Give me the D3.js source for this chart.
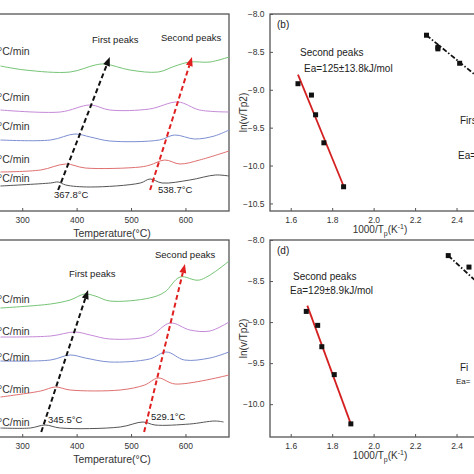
<!DOCTYPE html><html><head><meta charset="utf-8"><script src="https://cdn.jsdelivr.net/npm/d3@7"></script>
<style>body{margin:0;background:#fff}text{font-family:Arial,"Liberation Sans",sans-serif}</style></head><body>
<script>
// DSC curves: temperature (°C) and signal (arb. units)
const rateLabels=["°C/min","°C/min","°C/min","°C/min","°C/min"];
const colors=["#76c476","#c58ad8","#7d8fd2","#e07070","#555555"];
const aT=[[260,305,388,434,452,498,550,581,608,645,680],
 [260,370,425,461,534,586,626,680],
 [260,352,397,425,461,552,580,617,653,680],
 [260,334,380,416,517,535,562,590,626,680],
 [260,352,366,380,425,517,535,557,608,655,680]];
const aS=[[145,141,139,146,147,141,139,145,149,149,154],
 [101,99,106,101,102,109,101,99],
 [71,71,77,74,70,71,76,72,75,81],
 [39,41,47,43,44,46,51,47,51,60],
 [25,28,29,26,24,28,32,28,31,36,35]];
const cT=[[260,352,388,415,434,461,534,562,590,626,680],
 [260,352,397,425,461,534,572,608,645,680],
 [260,352,388,416,461,534,565,598,645,680],
 [260,334,361,388,480,525,550,581,680],
 [260,315,342,370,480,522,544,608,654,670]];
const cS=[[129,133,137,143,141,136,139,145,160,157,176],
 [100,101,105,102,98,101,114,107,106,115],
 [76,77,82,79,75,78,85,77,79,85],
 [40,46,50,47,47,52,59,53,62],
 [9,9,12,9,10,15,12,13,16,15]];
// Kissinger plots
const bSecX=[1.635,1.70,1.72,1.76,1.855], bSecY=[-8.92,-9.07,-9.33,-9.70,-10.28];
const bFirX=[2.255,2.31,2.31,2.415], bFirY=[-8.28,-8.44,-8.46,-8.65];
const dSecX=[1.675,1.73,1.75,1.81,1.89], dSecY=[-8.87,-9.04,-9.30,-9.64,-10.24];
const dFirX=[2.36,2.46,2.52], dFirY=[-8.19,-8.33,-8.57];
const xTicksT=[300,400,500,600], xTicksK=[1.6,1.8,2.0,2.2,2.4];

const svg=d3.select("body").append("svg").attr("width",474).attr("height",474);

function dsc(top,bot,T,S,lblY,arrows,peakLbls){
 const g=svg.append("g");
 const x=d3.scaleLinear().domain([250,680]).range([-5,229]);
 const y=d3.scaleLinear().domain([0,197]).range([bot,top]);
 g.append("rect").attr("x",-5).attr("y",top).attr("width",234).attr("height",bot-top).attr("fill","none").attr("stroke","#555").attr("stroke-width",1.3);
 g.append("g").attr("transform",`translate(0,${bot})`).call(d3.axisBottom(x).tickValues(xTicksT).tickSize(-3).tickSizeOuter(0))
  .call(a=>{a.select(".domain").remove();a.selectAll("text").attr("font-size",8.5).attr("fill","#333").attr("dy","1.1em");a.selectAll("line").attr("stroke","#555");});
 g.append("text").attr("x",112).attr("y",bot+26).attr("text-anchor","middle").attr("font-size",10.5).attr("fill","#333").text("Temperature(°C)");
 const line=d3.line().x(d=>x(d[0])).y(d=>y(d[1])).curve(d3.curveCatmullRom);
 T.forEach((t,i)=>{g.append("path").attr("d",line(t.map((v,j)=>[v,S[i][j]]))).attr("fill","none").attr("stroke",colors[i]).attr("stroke-width",1);
  g.append("text").attr("x",-2).attr("y",lblY[i]).attr("font-family","Liberation Serif,serif").attr("font-size",10.5).attr("fill","#333").text(rateLabels[i]);});
 arrows.forEach(a=>{
  const x1=x(a.t0),y1=y(a.s0),x2=x(a.t1),y2=y(a.s1);
  const ang=Math.atan2(y2-y1,x2-x1),L=9;
  g.append("line").attr("x1",x1).attr("y1",y1).attr("x2",x2-Math.cos(ang)*L).attr("y2",y2-Math.sin(ang)*L).attr("stroke",a.c).attr("stroke-width",2).attr("stroke-dasharray","5,3");
  const p=[[x2,y2],[x2-L*Math.cos(ang)+3.5*Math.sin(ang),y2-L*Math.sin(ang)-3.5*Math.cos(ang)],[x2-L*Math.cos(ang)-3.5*Math.sin(ang),y2-L*Math.sin(ang)+3.5*Math.cos(ang)]];
  g.append("path").attr("d","M"+p.join("L")+"Z").attr("fill",a.c);
  g.append("text").attr("x",a.lx).attr("y",a.ly).attr("font-size",9.5).attr("fill","#222").text(a.label);
 });
 peakLbls.forEach(p=>g.append("text").attr("x",p[0]).attr("y",p[1]).attr("font-size",9.5).attr("fill","#222").text(p[2]));
}
dsc(14,211,aT,aS,[55,101,130,163,182],
 [{t0:366,s0:21,t1:461,s1:154,c:"#111",lx:92,ly:43,label:"First peaks"},
  {t0:535,s0:21,t1:612,s1:154,c:"#e02020",lx:161,ly:41,label:"Second peaks"}],
 [[54,198,"367.8°C"],[158,193,"538.7°C"]]);
dsc(240,437,cT,cS,[303,335,361,393,426],
 [{t0:335,s0:5,t1:421,s1:147,c:"#111",lx:69,ly:277,label:"First peaks"},
  {t0:524,s0:5,t1:599,s1:173,c:"#e02020",lx:155,ly:258,label:"Second peaks"}],
 [[48,423,"345.5°C"],[151,420,"529.1°C"]]);

function kis(top,bot,yd,yt,sx,sy,s0,s1,fx,fy,f0,f1,tag,ea,eaPos,firPos){
 const g=svg.append("g");
 const x=d3.scaleLinear().domain([1.5,2.6]).range([270,498]);
 const y=d3.scaleLinear().domain(yd).range([top,bot]);
 g.append("rect").attr("x",270).attr("y",top).attr("width",228).attr("height",bot-top).attr("fill","none").attr("stroke","#555").attr("stroke-width",1.3);
 g.append("g").attr("transform",`translate(0,${bot})`).call(d3.axisBottom(x).tickValues(xTicksK).tickFormat(d3.format(".1f")).tickSize(-3).tickSizeOuter(0))
  .call(a=>{a.select(".domain").remove();a.selectAll("text").attr("font-size",8.5).attr("fill","#333").attr("dy","1.1em");a.selectAll("line").attr("stroke","#555");});
 g.append("g").attr("transform","translate(270,0)").call(d3.axisLeft(y).tickValues(yt).tickFormat(d3.format(".1f")).tickSize(-3).tickSizeOuter(0))
  .call(a=>{a.select(".domain").remove();a.selectAll("text").attr("font-size",8.5).attr("fill","#333").attr("dx","-0.3em");a.selectAll("line").attr("stroke","#555");});
 const yl=(top+bot)/2;
 g.append("text").attr("transform",`translate(247,${yl}) rotate(-90)`).attr("text-anchor","middle").attr("font-size",10).attr("fill","#333").text("ln(v/Tp2)");
 const xl=g.append("text").attr("x",380).attr("y",bot+22).attr("text-anchor","middle").attr("font-size",10).attr("fill","#333");
 xl.append("tspan").text("1000/T");xl.append("tspan").attr("font-size",7).attr("dy",3).text("p");
 xl.append("tspan").attr("dy",-3).text("(K");xl.append("tspan").attr("font-size",7).attr("dy",-4).text("-1");xl.append("tspan").attr("dy",4).text(")");
 g.append("line").attr("x1",x(s0[0])).attr("y1",y(s0[1])).attr("x2",x(s1[0])).attr("y2",y(s1[1])).attr("stroke","#d42020").attr("stroke-width",1.8);
 g.append("line").attr("x1",x(f0[0])).attr("y1",y(f0[1])).attr("x2",x(f1[0])).attr("y2",y(f1[1])).attr("stroke","#111").attr("stroke-width",1.8).attr("stroke-dasharray","5,2,1.5,2");
 sx.forEach((v,i)=>g.append("rect").attr("x",x(v)-2.5).attr("y",y(sy[i])-2.5).attr("width",5).attr("height",5).attr("fill","#111"));
 fx.forEach((v,i)=>g.append("rect").attr("x",x(v)-2.5).attr("y",y(fy[i])-2.5).attr("width",5).attr("height",5).attr("fill","#111"));
 g.append("text").attr("x",277).attr("y",top+14).attr("font-size",10).attr("fill","#222").text(tag);
 g.append("text").attr("x",eaPos[0]).attr("y",eaPos[1]).attr("font-size",10).attr("fill","#222").text("Second peaks");
 g.append("text").attr("x",eaPos[2]).attr("y",eaPos[3]).attr("font-family","Liberation Serif,serif").attr("font-size",10).attr("fill","#222").text(ea);
 g.append("text").attr("x",firPos[0]).attr("y",firPos[1]).attr("font-size",10).attr("fill","#222").text(firPos[2]);
 g.append("text").attr("x",firPos[3]).attr("y",firPos[4]).attr("font-size",firPos[6]).attr("fill","#222").text(firPos[5]);
}
kis(14,211,[-8.0,-10.6],[-8.0,-8.5,-9.0,-9.5,-10.0,-10.5],bSecX,bSecY,[1.635,-8.80],[1.855,-10.27],bFirX,bFirY,[2.255,-8.28],[2.6,-9.05],
 "(b)","Ea=125±13.8kJ/mol",[300,56,304,72],[460,124,"Firs",458,159,"Ea=",10]);
kis(240,437,[-8.0,-10.4],[-8.0,-8.5,-9.0,-9.5,-10.0],dSecX,dSecY,[1.68,-8.80],[1.89,-10.24],dFirX,dFirY,[2.36,-8.19],[2.6,-8.75],
 "(d)","Ea=129±8.9kJ/mol",[293,280,290,294],[460,371,"Fi",456,384,"Ea=",8]);
</script></body></html>
